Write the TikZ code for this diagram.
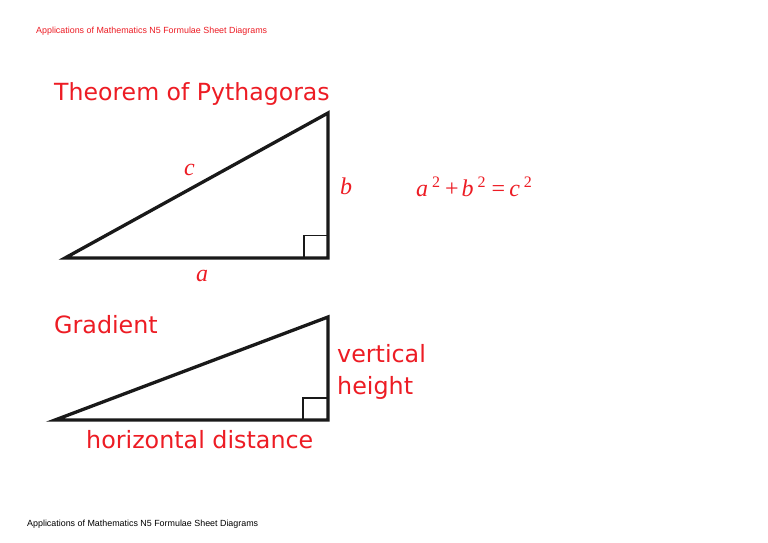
\documentclass[tikz,border=0pt]{standalone}
\usepackage{fontspec}
\setmainfont{Liberation Serif}
\newfontfamily\hdrfont{Liberation Sans}
\newfontfamily\lblfont{DejaVu Sans}
\definecolor{redtxt}{RGB}{237,28,36}
\newcommand{\supr}[1]{\hspace{4pt}\raisebox{8.5pt}{\upshape\fontsize{16}{16}\selectfont #1}}
\begin{document}
\begin{tikzpicture}[x=1pt,y=-1pt,
  tri/.style={line width=3.3pt,line join=miter,black!90},
  sq/.style={line width=1.6pt,black!90},
  hdr/.style={font=\hdrfont\fontsize{8.9}{10}\selectfont,inner sep=0pt,anchor=base west},
  ttl/.style={font=\lblfont\fontsize{23.6}{28}\selectfont,text=redtxt,inner sep=0pt,anchor=base west},
  lbl/.style={font=\lblfont\fontsize{23.8}{25}\selectfont,text=redtxt,inner sep=0pt,anchor=base west},
  mth/.style={font=\fontsize{24}{26}\selectfont\itshape,text=redtxt,inner sep=0pt,anchor=base west}]
\useasboundingbox (0,0) rectangle (768,542);
\fill[white] (0,0) rectangle (768,542);
% headers
\node[hdr,text=redtxt] (hd1) at (36,33) {Applications of Mathematics N5 Formulae Sheet Diagrams};
\node[hdr,text=black] (hd2) at (27,526) {Applications of Mathematics N5 Formulae Sheet Diagrams};
% Pythagoras
\node[ttl] (t1) at (54,100) {Theorem of Pythagoras};
\coordinate (A1) at (65,258);
\coordinate (B1) at (328,258);
\coordinate (C1) at (328,113);
\draw[sq] (304,258) -- (304,235.5) -- (328,235.5);
\draw[tri] (A1) -- (B1) -- (C1) -- cycle;
\node[mth] (lc) at (184,175) {c};
\node[mth] (lb) at (340,194) {b};
\node[mth] (la) at (196,281) {a};
\node[mth] (eq) at (416,196) {a\supr{2}\hspace{5pt}{\upshape +}\hspace{3pt}b\supr{2}\hspace{6pt}{\upshape =}\hspace{4pt}c\supr{2}};
% Gradient
\node[lbl] (t2) at (54,333) {Gradient};
\coordinate (A2) at (55,420);
\coordinate (B2) at (328,420);
\coordinate (C2) at (328,317);
\draw[sq] (303,420) -- (303,398) -- (328,398);
\draw[tri] (A2) -- (B2) -- (C2) -- cycle;
\node[lbl] (vh1) at (337,362) {vertical};
\node[lbl] (vh2) at (337,394) {height};
\node[lbl] (hd) at (86,448) {horizontal distance};
\end{tikzpicture}
\end{document}
